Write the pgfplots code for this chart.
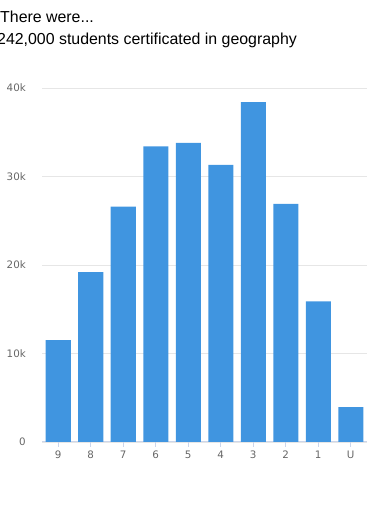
\documentclass[border=0pt]{standalone}
\usepackage{pgfplots}
\pgfplotsset{compat=1.18}
\usepackage{fontspec}
\setmainfont{Liberation Sans}
\newfontfamily\dejavu{DejaVu Sans}
\definecolor{barcol}{HTML}{4095E0}
\definecolor{gridcol}{HTML}{E6E6E6}
\definecolor{axiscol}{HTML}{CCD6EB}
\definecolor{labcol}{HTML}{666666}
\begin{document}
\begin{tikzpicture}[x=1pt,y=1pt]
\path[use as bounding box] (0,0) rectangle (374,506);
\node[anchor=base west, font=\fontsize{15.9}{18}\selectfont, inner sep=0pt] at (0,483.3) {There were...};
\node[anchor=base west, font=\fontsize{15.9}{18}\selectfont, inner sep=0pt] at (-3,461) {242,000 students certificated in geography};
\begin{axis}[
  at={(42pt,64pt)}, anchor=south west,
  width=325pt, height=354pt, scale only axis,
  ymin=0, ymax=40000, xmin=-0.5, xmax=9.5,
  ybar, bar width=25pt, bar shift=0pt,
  axis x line*=bottom, axis y line*=left,
  y axis line style={draw=none},
  x axis line style={draw=axiscol, line width=1pt},
  xtick={0,...,9},
  xticklabels={9,8,7,6,5,4,3,2,1,U},
  ytick={0,10000,20000,30000,40000},
  yticklabels={0,10k,20k,30k,40k},
  scaled y ticks=false,
  ymajorgrids, grid style={draw=gridcol, line width=0.8pt},
  xtick align=outside,
  major x tick style={draw=axiscol, line width=1pt},
  major y tick style={draw=none},
  major tick length=5pt,
  tick label style={font=\dejavu\fontsize{10.3}{12}\selectfont, text=labcol},
  yticklabel style={anchor=east, inner sep=0pt, xshift=-16pt},
  xticklabel style={anchor=base, inner sep=0pt, yshift=-12pt},
  /pgf/number format/assume math mode=true,
]
\addplot[fill=barcol, draw=none] coordinates {
(0,11500) (1,19200) (2,26600) (3,33400) (4,33800) (5,31300) (6,38400) (7,26900) (8,15900) (9,3950)
};
\end{axis}
\end{tikzpicture}
\end{document}
